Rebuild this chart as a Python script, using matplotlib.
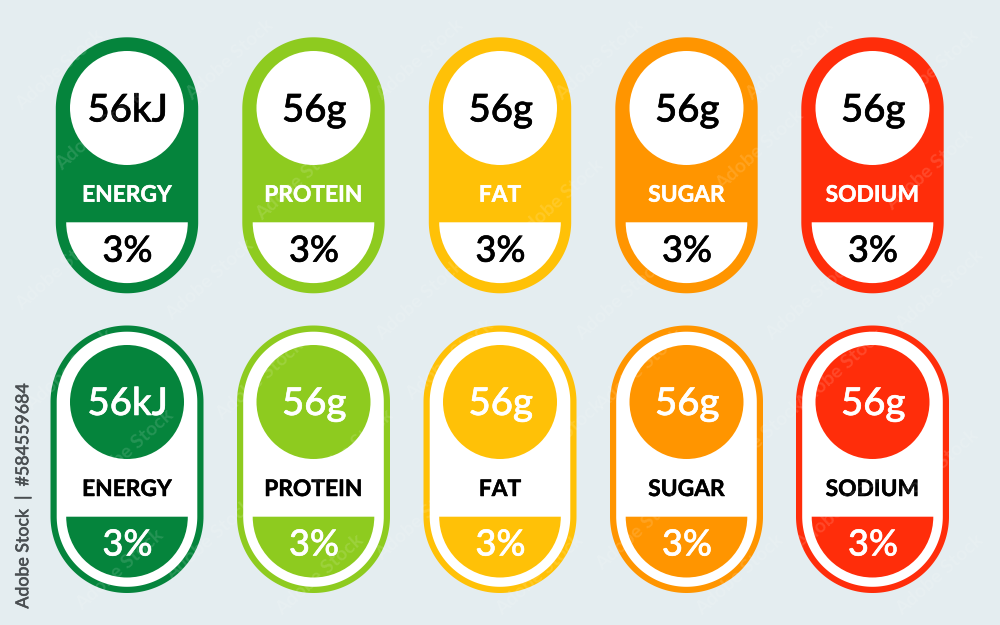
import numpy as np
import matplotlib
matplotlib.use("Agg")
import matplotlib.pyplot as plt
import matplotlib.patheffects as pe
from matplotlib.patches import Circle, Wedge, Polygon

categories = ["ENERGY", "PROTEIN", "FAT", "SUGAR", "SODIUM"]
amounts = ["56kJ", "56g", "56g", "56g", "56g"]
percents = ["3%", "3%", "3%", "3%", "3%"]
colours = ["#05843c", "#8ecb1f", "#ffc107", "#ff9500", "#ff2d0a"]
centres = [127, 313.5, 500, 686.5, 872.5]
watermarks = [(60, 70), (230, 60), (420, 60), (600, 60), (790, 60), (935, 70),
              (100, 130), (300, 180), (560, 200), (760, 150), (930, 170),
              (60, 270), (210, 280), (420, 300), (620, 300), (810, 300), (940, 290),
              (70, 370), (260, 380), (450, 360), (640, 370), (840, 370),
              (130, 450), (350, 450), (560, 440), (760, 440), (935, 470),
              (210, 540), (420, 520), (640, 530), (840, 510), (120, 570),
              (320, 575), (540, 575), (740, 575), (940, 575)]

BG = "#e4edf0"
FONT = "Lato"

fig = plt.figure(figsize=(10, 6.25), dpi=100, facecolor=BG)
ax = fig.add_axes([0, 0, 1, 1])
ax.set_xlim(0, 1000)
ax.set_ylim(625, 0)
ax.axis("off")


def pill(cx, top, bottom, r, colour, z):
    t = np.linspace(np.pi, 2 * np.pi, 120)
    upper = np.c_[cx + r * np.cos(t), top + r + r * np.sin(t)]
    t = np.linspace(0, np.pi, 120)
    lower = np.c_[cx + r * np.cos(t), bottom - r + r * np.sin(t)]
    ax.add_patch(Polygon(np.vstack([upper, lower]), closed=True, fc=colour, ec="none", zorder=z))


def label(x, y, s, size, colour, weight="medium", extra=0.45):
    ax.text(x, y, s, fontsize=size, color=colour, ha="center", va="baseline",
            family=[FONT, "DejaVu Sans"], weight=weight, zorder=6,
            path_effects=[pe.withStroke(linewidth=extra, foreground=colour)])


for cx, cat, amt, pct, col in zip(centres, categories, amounts, percents, colours):
    # top row: solid pill
    pill(cx, 37.3, 293.3, 71.2, col, 2)
    ax.add_patch(Circle((cx, 108), 57, fc="white", ec="none", zorder=3))
    ax.add_patch(Wedge((cx, 222.3), 60.8, 0, 180, fc="white", ec="none", zorder=3))
    label(cx + 0.8, 121.5, amt, 27.6, "black")
    label(cx, 201.7, cat, 16.4, "white", "bold", 0.35)
    label(cx + 0.4, 261.7, pct, 26, "black")

    # bottom row: outlined pill
    pill(cx, 325.5, 593, 76.5, col, 2)
    pill(cx, 331.7, 586.8, 70.3, "white", 3)
    ax.add_patch(Circle((cx, 402), 57, fc=col, ec="none", zorder=4))
    ax.add_patch(Wedge((cx, 516.7), 60.8, 0, 180, fc=col, ec="none", zorder=4))
    label(cx + 0.8, 415, amt, 27.6, "white")
    label(cx, 496, cat, 16.4, "black", "bold", 0.35)
    label(cx + 0.4, 555.5, pct, 26, "white")

for x, y in watermarks:
    ax.text(x, y, "Adobe Stock", fontsize=14, color="white", alpha=0.13, rotation=42,
            ha="center", va="center", family=[FONT, "DejaVu Sans"], weight="bold", zorder=7)

ax.text(23, 496, "Adobe Stock  |  #584559684", fontsize=12.8, color="#4a4f52", rotation=90,
        ha="center", va="center", family=[FONT, "DejaVu Sans"], zorder=7,
        path_effects=[pe.withStroke(linewidth=0.4, foreground="#4a4f52")])

fig.savefig("out.png", dpi=100, facecolor=BG)
